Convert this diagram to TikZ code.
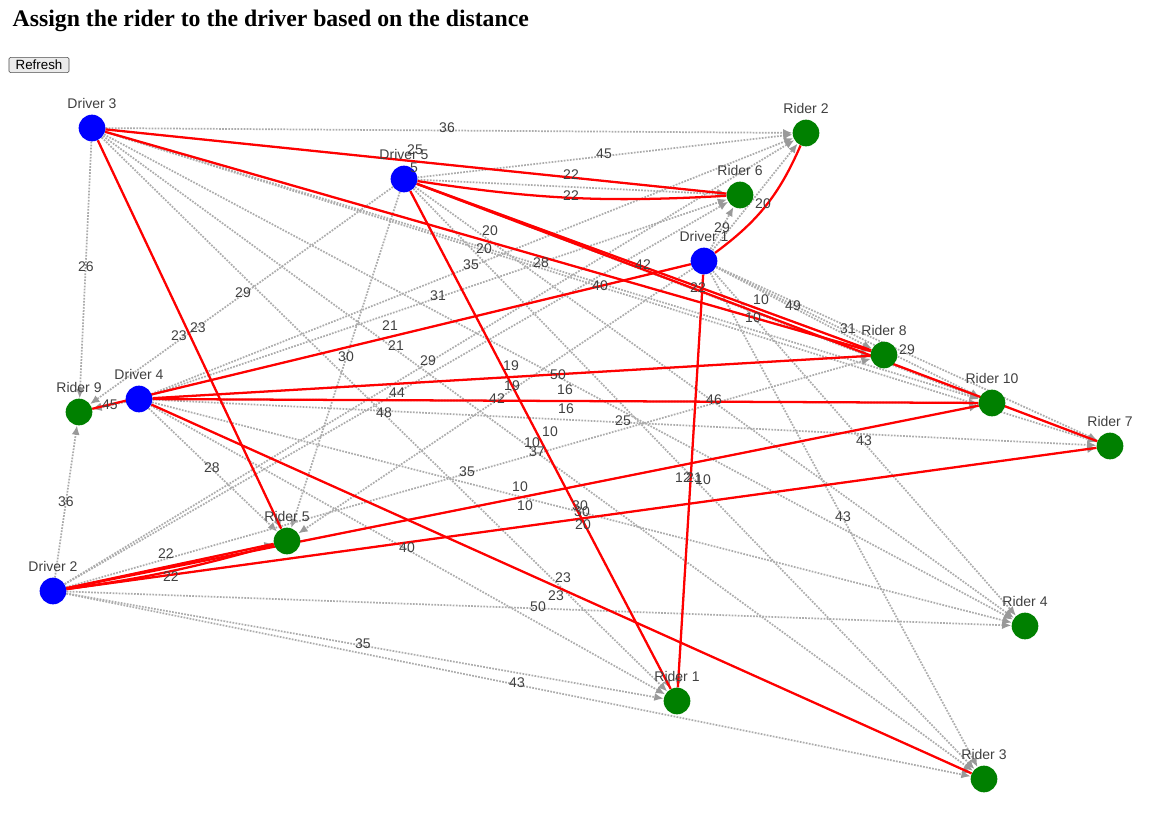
\documentclass[tikz,border=0pt]{standalone}
\usepackage{fontspec}
\setmainfont{Liberation Sans}
\newfontfamily\titlefont{Liberation Serif}
\usetikzlibrary{arrows.meta,backgrounds}
\begin{document}
\begin{tikzpicture}[x=0.75pt,y=-0.75pt,
  drv/.style={circle,fill=blue,minimum size=20pt,inner sep=0pt},
  rdr/.style={circle,fill=green!50!black,minimum size=20pt,inner sep=0pt},
  nlab/.style={font=\fontsize{10.5}{12}\selectfont,text=black!75},
  elab/.style={font=\fontsize{10.5}{12}\selectfont,text=black!75,inner sep=0pt},
  gedge/.style={draw=gray!65,densely dotted,line width=1.3pt,-{Latex[length=7pt,width=6pt,color=gray!80,fill=gray!80]}},
  redge/.style={draw=red,line width=1.7pt}]
\useasboundingbox (0,0) rectangle (1158,821);
\node[anchor=west,font=\titlefont\bfseries\fontsize{17.8}{19}\selectfont] (title) at (8,21) {Assign the rider to the driver based on the distance};
\node[draw=black!70,fill=black!8,rounded corners=1pt,font=\fontsize{10}{12}\selectfont,inner xsep=5pt,inner ysep=2pt] (btn) at (39,65) {Refresh};
% drivers
\node[drv] (D3) at (92,128) {};
\node[drv] (D5) at (404,179) {};
\node[drv] (D1) at (704,261) {};
\node[drv] (D4) at (139,399) {};
\node[drv] (D2) at (53,591) {};
% riders
\node[rdr] (R2) at (806,133) {};
\node[rdr] (R6) at (740,195) {};
\node[rdr] (R8) at (884,355) {};
\node[rdr] (R10) at (992,403) {};
\node[rdr] (R7) at (1110,446) {};
\node[rdr] (R9) at (79,412) {};
\node[rdr] (R5) at (287,541) {};
\node[rdr] (R4) at (1025,626) {};
\node[rdr] (R1) at (677,701) {};
\node[rdr] (R3) at (984,779) {};
% node labels
\foreach \n/\t in {D3/Driver 3,D5/Driver 5,D1/Driver 1,D4/Driver 4,D2/Driver 2,R2/Rider 2,R6/Rider 6,R8/Rider 8,R10/Rider 10,R7/Rider 7,R9/Rider 9,R5/Rider 5,R4/Rider 4,R1/Rider 1,R3/Rider 3}
  \node[nlab,anchor=south] at ([yshift=1pt]\n.north) {\t};
\begin{scope}[on background layer]
% gray edges
\foreach \d in {D3,D5,D1,D4,D2}
  \foreach \r in {R2,R6,R8,R10,R7,R9,R5,R4,R1,R3}
    \draw[gedge] (\d) -- (\r);
% red edges
\draw[redge] (D3) -- (R6);
\draw[redge] (D5) to[bend right=6] (R6);
\draw[redge] (D3) -- (R8);
\draw[redge] (D3) -- (R5);
\draw[redge] (D5) -- (R8);
\draw[redge] (D5) -- (R7);
\draw[redge] (D5) -- (R1);
\draw[redge] (D1) to[bend right=15] (R2);
\draw[redge] (D1) -- (R1);
\draw[redge] (D1) -- (R9);
\draw[redge] (D4) -- (R8);
\draw[redge] (D4) -- (R10);
\draw[redge] (D4) -- (R3);
\draw[redge] (D2) -- (R5);
\draw[redge] (D2) to[bend right=4] (R5);
\draw[redge] (D2) -- (R10);
\draw[redge] (D2) -- (R7);
\end{scope}
% edge labels
\foreach \x/\y/\t in {447/128/36,604/154/45,415/150/25,414/168/5,571/175/22,571/196/22,763/204/20,722/228/29,490/231/20,484/249/20,471/265/35,541/263/28,643/265/42,600/286/40,698/288/22,761/300/10,793/306/49,753/318/10,848/329/31,907/350/29,86/267/26,243/293/29,438/296/31,179/336/23,198/328/23,390/326/21,396/346/21,346/357/30,428/361/29,511/366/19,558/375/50,512/386/19,565/390/16,397/393/44,110/405/45,497/399/42,566/409/16,384/413/48,714/400/46,623/421/25,550/432/10,532/443/10,537/452/37,864/441/43,212/468/28,467/472/35,520/487/10,525/506/10,580/506/30,582/512/30,583/525/20,683/478/12,694/478/21,703/480/10,843/517/43,66/502/36,166/554/22,171/577/22,407/548/40,563/578/23,556/596/23,538/607/50,363/644/35,517/683/43}
  \node[elab] at (\x,\y) {\t};
\end{tikzpicture}
\end{document}
